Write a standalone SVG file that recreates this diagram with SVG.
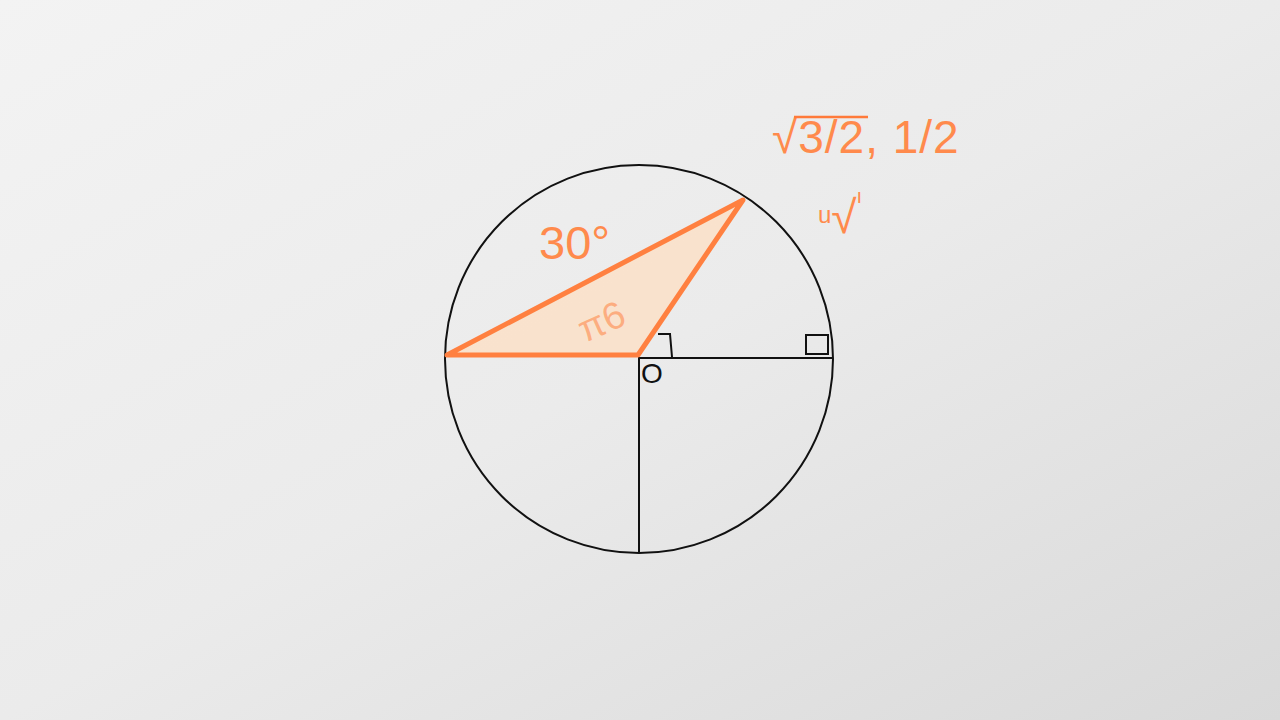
<svg xmlns="http://www.w3.org/2000/svg" width="1280" height="720" viewBox="0 0 1280 720">
<defs>
<linearGradient id="bg" x1="0" y1="0" x2="1" y2="1">
<stop offset="0" stop-color="#f3f3f3"/>
<stop offset="0.5" stop-color="#ebebeb"/>
<stop offset="1" stop-color="#d9d9d9"/>
</linearGradient>
<style>
.ln{fill:none;stroke:#111;stroke-width:2}
.or{fill:#ff8a4c;font-family:"Liberation Sans",Arial,sans-serif}
</style>
</defs>
<rect width="1280" height="720" fill="url(#bg)"/>
<g id="circle"><circle cx="639" cy="359" r="194" class="ln"/></g>
<g id="connectors">
<line x1="638" y1="358" x2="833" y2="358" class="ln"/>
<line x1="639" y1="358" x2="639" y2="553" class="ln"/>
<path d="M658,334 H670 L672,357" class="ln"/>
<rect x="806" y="335" width="22" height="19" class="ln"/>
</g>
<g id="triangle">
<polygon points="447,355 743,200 638,355" fill="#fbe0c8" fill-opacity="0.85" stroke="#ff8040" stroke-width="5" stroke-linejoin="round"/>
</g>
<g id="labels">
<text x="539" y="259" class="or" font-size="47">30°</text>
<text x="585" y="343" class="or" font-size="38" fill="#f0a080" fill-opacity="0.6" transform="rotate(-24 585 343)">π6</text>
<text x="641" y="383" font-family="Liberation Sans,Arial,sans-serif" font-size="28" fill="#111">O</text>
<text x="772" y="153" class="or" font-size="46" letter-spacing="1" fill="#ff7a3a">√3/2, 1/2</text>
<line x1="794" y1="117" x2="868" y2="117" stroke="#ff7a3a" stroke-width="2.5"/>
<text x="818" y="223" class="or" font-size="24" fill="#ff7a3a">u<tspan font-size="46" dy="10">√</tspan><tspan font-size="20" dy="-30">ı</tspan></text>
</g>
</svg>
